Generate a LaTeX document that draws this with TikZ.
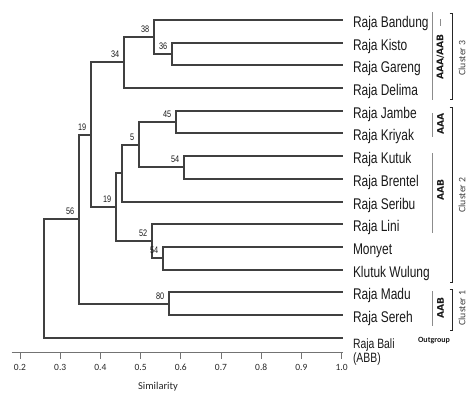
\documentclass[tikz,border=0pt]{standalone}
\usepackage{fontspec}
\usepackage{tikz}
\usetikzlibrary{positioning}
\newfontfamily\leaffont[FakeStretch=0.77]{Liberation Sans}
\newfontfamily\axisfont{Carlito}
\newfontfamily\tagfont{DejaVu Sans}
\definecolor{branchgray}{gray}{0.25}
\definecolor{ink}{gray}{0.1}

\begin{document}
\begin{tikzpicture}[x=1pt, y=-1pt,
    branch/.style={draw=branchgray, line width=2pt, line join=miter, line cap=rect},
    leaftext/.style={inner xsep=11pt, inner ysep=0pt, outer sep=0pt, text=ink, font=\leaffont\fontsize{15.5}{15}\selectfont},
    leaf/.style={leaftext, anchor=west, text height=14pt, text depth=0pt},
    boot/.style={anchor=south east, inner sep=0pt, xshift=-4.5pt, yshift=4.5pt, text=ink, font=\leaffont\fontsize{9.5}{10}\selectfont},
    axisline/.style={draw=black!55, line width=1pt},
    tickmark/.style={draw=black!55, line width=0.8pt},
    ticklabel/.style={inner sep=0pt, text=black!85, font=\axisfont\fontsize{9.5}{10}\selectfont},
    tag/.style={rotate=90, inner sep=0pt, text=ink, font=\tagfont\bfseries\fontsize{9.2}{10}\selectfont},
    tagline/.style={draw=black!45, line width=0.6pt},
    bracket/.style={draw=black!85, line width=0.9pt},
    clusterlabel/.style={rotate=90, inner sep=0pt, text=black!75, font=\axisfont\fontsize{9.8}{10}\selectfont}]

  \useasboundingbox (0,0) rectangle (474,399);

  \node[leaf] (bandung) at (342,20) {Raja Bandung};
  \node[leaf] (kisto) at (342,43) {Raja Kisto};
  \node[leaf] (gareng) at (342,65) {Raja Gareng};
  \node[leaf] (delima) at (342,88) {Raja Delima};
  \node[leaf] (jambe) at (342,111) {Raja Jambe};
  \node[leaf] (kriyak) at (342,133) {Raja Kriyak};
  \node[leaf] (kutuk) at (342,156) {Raja Kutuk};
  \node[leaf] (brentel) at (342,179) {Raja Brentel};
  \node[leaf] (seribu) at (342,202) {Raja Seribu};
  \node[leaf] (lini) at (342,224) {Raja Lini};
  \node[leaf] (monyet) at (342,247) {Monyet};
  \node[leaf] (klutuk) at (342,270) {Klutuk Wulung};
  \node[leaf] (madu) at (342,292) {Raja Madu};
  \node[leaf] (sereh) at (342,315) {Raja Sereh};
  \coordinate (l15) at (342,338);
  \node[leaftext, anchor=north west, align=left, font=\leaffont\fontsize{13.5}{14.4}\selectfont] (bali) at (342,338.5) {Raja Bali\\(ABB)};

  \coordinate (n36) at (172,54);
  \coordinate (n38) at (154,37);
  \coordinate (n34) at (124,62);
  \coordinate (n45) at (176,122);
  \coordinate (n54a) at (184,167);
  \coordinate (n5) at (139,145);
  \coordinate (nsb) at (122,173);
  \coordinate (n54b) at (163,258);
  \coordinate (n52) at (152,241);
  \coordinate (n19b) at (116,207);
  \coordinate (n19a) at (91,135);
  \coordinate (n80) at (169,304);
  \coordinate (n56) at (79,219);
  \coordinate (root) at (44,279);

  \draw[branch] (bandung.west) -| (n38) |- (n36);
  \draw[branch] (kisto.west) -| (n36) |- (gareng.west);
  \draw[branch] (n38) -| (n34) |- (delima.west);
  \draw[branch] (jambe.west) -| (n45) |- (kriyak.west);
  \draw[branch] (kutuk.west) -| (n54a) |- (brentel.west);
  \draw[branch] (n45) -| (n5) |- (n54a);
  \draw[branch] (n5) -| (nsb) |- (seribu.west);
  \draw[branch] (monyet.west) -| (n54b) |- (klutuk.west);
  \draw[branch] (lini.west) -| (n52) |- (n54b);
  \draw[branch] (nsb) -| (n19b) |- (n52);
  \draw[branch] (n34) -| (n19a) |- (n19b);
  \draw[branch] (madu.west) -| (n80) |- (sereh.west);
  \draw[branch] (n19a) -| (n56) |- (n80);
  \draw[branch] (n56) -| (root) |- (l15);

  \node[boot] (b38) at (n38) {38};
  \node[boot] (b36) at (n36) {36};
  \node[boot] (b34) at (n34) {34};
  \node[boot] (b45) at (n45) {45};
  \node[boot] (b54a) at (n54a) {54};
  \node[boot] (b5) at (n5) {5};
  \node[boot] (b19a) at (n19a) {19};
  \node[boot] (b19b) at (n19b) {19};
  \node[boot] (b52) at (n52) {52};
  \node[boot] (b54b) at (n54b) {54};
  \node[boot] (b80) at (n80) {80};
  \node[boot] (b56) at (n56) {56};

  \draw[axisline] (11.7,352.7) -- (343,352.7);
  \foreach \lab [count=\k from 0] in {0.2,0.3,0.4,0.5,0.6,0.7,0.8,0.9,1.0}{
    \draw[tickmark] (20+40.2*\k,352.7) -- ++(0,6);
    \node[ticklabel] (tick\k) at (20+40.2*\k,367) {\lab};
  }
  \node[ticklabel, font=\axisfont\fontsize{10.5}{11}\selectfont] (simlabel) at (158,386.5) {Similarity};

  \draw[tagline] (432.5,12) -- (432.5,100);
  \draw[tagline] (440,19) -- (440,26);
  \draw[tagline] (432.5,113) -- (432.5,137);
  \draw[tagline] (432.5,153) -- (432.5,233);
  \draw[tagline] (432.5,291) -- (432.5,326);
  \node[tag] (t3) at (440.5,57) {AAA/AAB};
  \node[tag] (t2a) at (440.5,124) {AAA};
  \node[tag] (t2b) at (440.5,190) {AAB};
  \node[tag] (t1) at (440.5,308) {AAB};

  \draw[bracket] (449.5,13) -- (452.5,13) -- (452.5,99) -- (449.5,99);
  \draw[bracket] (449.5,107) -- (452.5,107) -- (452.5,282) -- (449.5,282);
  \draw[bracket] (449.5,289) -- (452.5,289) -- (452.5,330) -- (449.5,330);
  \node[clusterlabel] (c3) at (462,58) {Cluster 3};
  \node[clusterlabel] (c2) at (462,195) {Cluster 2};
  \node[clusterlabel] (c1) at (462,308) {Cluster 1};

  \node[inner sep=0pt, text=ink, font=\axisfont\bfseries\fontsize{8}{9}\selectfont] (outgroup) at (434,340.7) {Outgroup};
\end{tikzpicture}
\end{document}
